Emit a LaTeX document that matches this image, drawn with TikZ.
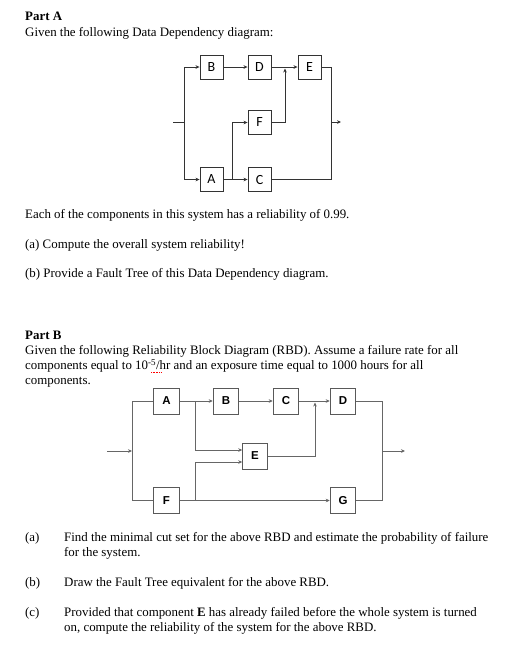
\documentclass[tikz,border=0pt]{standalone}
\usepackage{fontspec}
\setmainfont{Liberation Serif}
\newfontfamily\carl{Carlito}
\newfontfamily\arialf{Liberation Sans}
\usetikzlibrary{arrows.meta}
\begin{document}
\begin{tikzpicture}[x=1pt,y=-1pt,
  txt/.style={anchor=base west,inner sep=0pt,font=\fontsize{12.9}{14.5}\selectfont},
  boxa/.style={draw=black!80,line width=0.9pt,minimum width=23pt,minimum height=24pt,inner sep=0pt,font=\carl\fontsize{14}{15}\selectfont},
  boxb/.style={draw=black!65,line width=1pt,minimum width=25.5pt,minimum height=26pt,inner sep=0pt,font=\arialf\bfseries\fontsize{11.5}{12}\selectfont},
  la/.style={draw=black!80,line width=1pt},
  lb/.style={draw=black!60,line width=1pt},
  arr/.style={-{Stealth[length=4pt,width=3.6pt]}}
]
\useasboundingbox (0,0) rectangle (519,665);
\fill[white] (0,0) rectangle (519,665);

% ---------- Part A text ----------
\node[txt,font=\bfseries\fontsize{12.9}{14.5}\selectfont] (pa) at (25,20) {Part A};
\node[txt] (pa1) at (25,36) {Given the following Data Dependency diagram:};
\node[txt] (pa2) at (25,218) {Each of the components in this system has a reliability of 0.99.};
\node[txt] (pa3) at (25,248) {(a) Compute the overall system reliability!};
\node[txt] (pa4) at (25,277) {(b) Provide a Fault Tree of this Data Dependency diagram.};

% ---------- Part A diagram ----------
\node[boxa] (B) at (211.5,67) {B};
\node[boxa] (D) at (259.5,67) {D};
\node[boxa] (E) at (309.5,67) {E};
\node[boxa] (F) at (259.5,122.5) {F};
\node[boxa] (A) at (211.5,179.5) {A};
\node[boxa] (C) at (259.5,179.5) {C};
\coordinate (ain) at (173,122);
\coordinate (asplit) at (184,122);
\coordinate (ajdb) at (285,68.5);
\coordinate (ajf) at (232,179.5);
\coordinate (aout) at (331,122);
\coordinate (aend) at (341,122);
\draw[la] (ain) -- (asplit);
\draw[la,arr] (asplit) |- (B.west);
\draw[la,arr] (asplit) |- (A.west);
\draw[la,arr] (B) -- (D);
\draw[la,arr] (D) -- (E);
\draw[la,arr] (F.east) -| (ajdb);
\draw[la,arr] (A) -- (C);
\draw[la,arr] (ajf) |- (F.west);
\draw[la] (E.east) -| (aout);
\draw[la] (C.east) -| (aout);
\draw[la,arr] (aout) -- (aend);

% ---------- Part B text ----------
\node[txt,font=\bfseries\fontsize{12.9}{14.5}\selectfont] (pb) at (25,339) {Part B};
\node[txt] (pb1) at (25,354) {Given the following Reliability Block Diagram (RBD). Assume a failure rate for all};
\node[txt] (pb2) at (25,369.5) {components equal to 10\textsuperscript{-5}/hr and an exposure time equal to 1000 hours for all};
\node[txt] (pb3) at (25,384) {components.};
\draw[red,densely dotted,line width=0.6pt] (151,372) -- (162,372);

\node[txt] (qa) at (25,541) {(a)};
\node[txt] (qa1) at (64,541) {Find the minimal cut set for the above RBD and estimate the probability of failure};
\node[txt] (qa2) at (64,556) {for the system.};
\node[txt] (qb) at (25,586) {(b)};
\node[txt] (qb1) at (64,586) {Draw the Fault Tree equivalent for the above RBD.};
\node[txt] (qc) at (25,616) {(c)};
\node[txt] (qc1) at (64,616) {Provided that component \textbf{E} has already failed before the whole system is turned};
\node[txt] (qc2) at (64,631) {on, compute the reliability of the system for the above RBD.};

% ---------- Part B diagram ----------
\node[boxb] (bA) at (166.5,401) {A};
\node[boxb] (bB) at (226,401) {B};
\node[boxb] (bC) at (286,401) {C};
\node[boxb] (bD) at (343,401) {D};
\node[boxb] (bE) at (255,456) {E};
\node[boxb] (bF) at (166.5,500.5) {F};
\node[boxb] (bG) at (343,500.5) {G};
\coordinate (bin) at (107,451);
\coordinate (bsplit) at (132,451);
\coordinate (bja) at (195,401);
\coordinate (bjf) at (195,500.5);
\coordinate (bea) at (242.25,450);
\coordinate (beb) at (242.25,462);
\coordinate (bje) at (315,402.5);
\coordinate (bout) at (382,451);
\coordinate (bend) at (405,451);
\draw[lb,arr] (bin) -- (bsplit);
\draw[lb] (bsplit) |- (bA.west);
\draw[lb] (bsplit) |- (bF.west);
\draw[lb,arr] (bA) -- (bB);
\draw[lb,arr] (bB) -- (bC);
\draw[lb,arr] (bC) -- (bD);
\draw[lb,arr] (bja) |- (bea);
\draw[lb,arr] (bjf) |- (beb);
\draw[lb,arr] (bF) -- (bG);
\draw[lb,arr] (bE.east) -| (bje);
\draw[lb] (bD.east) -| (bout);
\draw[lb] (bG.east) -| (bout);
\draw[lb,arr] (bout) -- (bend);
\end{tikzpicture}
\end{document}
